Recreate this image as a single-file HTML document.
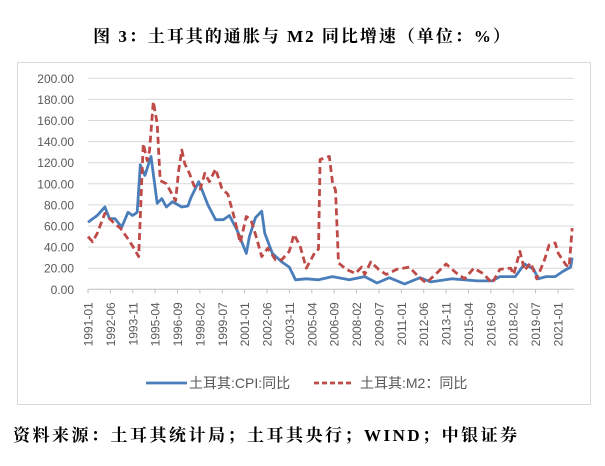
<!DOCTYPE html>
<html><head><meta charset="utf-8"><style>
body{margin:0;background:#fff;width:605px;height:466px;overflow:hidden;position:relative;font-family:"Liberation Serif","Noto Serif CJK SC",serif}
#title{position:absolute;left:0;width:605px;top:22px;text-align:center;font-size:17px;font-weight:bold;color:#000;letter-spacing:2px}
#src{position:absolute;left:13px;top:421px;font-size:17px;font-weight:bold;color:#000;letter-spacing:2.5px}
#box{position:absolute;left:17px;top:62px;width:574px;height:343px;border:1px solid #d9d9d9;box-sizing:border-box}
svg{position:absolute;left:0;top:0}
</style></head><body>
<div id="title">图 3：土耳其的通胀与 M2 同比增速（单位：%）</div>
<div id="box"></div>
<svg id="chart" width="605" height="466"></svg>
<div id="src">资料来源：土耳其统计局；土耳其央行；WIND；中银证券</div>
<script>
const yTicks=[0,20,40,60,80,100,120,140,160,180,200];
const xTickLabels=["1991-01","1992-06","1993-11","1995-04","1996-09","1998-02","1999-07","2001-01","2002-06","2003-11","2005-04","2006-09","2008-02","2009-07","2011-01","2012-06","2013-11","2015-04","2016-09","2018-02","2019-07","2021-01"];
const cpiT=[1991.0,1991.6,1992.1,1992.4,1992.75,1993.2,1993.6,1993.9,1994.2,1994.4,1994.7,1995.1,1995.5,1995.8,1996.1,1996.5,1997.1,1997.5,1997.7,1998.2,1998.4,1998.8,1999.3,1999.8,2000.2,2000.7,2001.3,2001.5,2001.9,2002.3,2002.5,2003.0,2003.6,2004.1,2004.5,2005.2,2006.0,2006.9,2008.0,2009.0,2009.8,2010.6,2011.6,2012.6,2013.3,2014.7,2016.3,2017.3,2017.8,2018.8,2019.4,2020.0,2020.3,2020.8,2021.4,2021.9,2022.4,2022.5];
const cpiV=[63.5,70,78,67,67,59,73,70,73,118,108,126,81.5,86,78,83,78,79,87,102,95,80,66,66,70,56,34,50,68,74,53,34,26,21,9,10,9,12,9,12,6,11,5,11,7,10,8,8,12,12,24,19,10,12,12,17,21,30];
const m2T=[1991.0,1991.3,1991.6,1992.1,1992.4,1992.75,1993.1,1993.5,1993.9,1994.3,1994.5,1994.6,1994.85,1995.0,1995.25,1995.5,1995.7,1996.1,1996.7,1996.9,1997.1,1997.3,1997.6,1997.9,1998.3,1998.6,1998.9,1999.3,1999.7,2000.1,2000.5,2000.9,2001.3,2001.6,2001.9,2002.3,2002.7,2003.2,2003.6,2004.1,2004.4,2004.8,2005.2,2005.8,2006.0,2006.1,2006.7,2006.9,2007.1,2007.3,2007.8,2008.4,2008.8,2009.0,2009.4,2009.9,2010.4,2011.1,2011.9,2012.5,2013.0,2013.6,2014.3,2015.0,2015.5,2016.1,2016.7,2017.3,2017.8,2018.5,2018.7,2019.1,2019.4,2019.8,2020.2,2020.7,2021.0,2021.4,2021.6,2022.1,2022.3,2022.5];
const m2V=[50,45,53,72,67,62,58,50,41,31,105,138,122,131,178,157,103,100,84,113,132,119,110,98,95,110,102,114,96,90,69,44,69,66,52,31,39,28,28,36,52,41,20,36,38,123,126,102,94,25,19,15,21,14,26,19,14,19,21,12,6,14,24,15,10,20,15,6,19,20,14,36,18,25,10,28,42,44,34,23,21,58];
const svg=document.getElementById('chart');const NS='http://www.w3.org/2000/svg';
const X0=88,PXY=15.37,Y0=289.3,YT=78.3,TICKDX=22.38;
const xs=t=>X0+(t-1991)*PXY;
const ys=v=>Y0-(v/200)*(Y0-YT);
function mk(tag,attrs){const e=document.createElementNS(NS,tag);for(const k in attrs)e.setAttribute(k,attrs[k]);svg.appendChild(e);return e;}
yTicks.forEach(v=>{
 if(v>0){const g=mk('line',{x1:X0,x2:574,y1:ys(v),y2:ys(v),stroke:'#d9d9d9','stroke-width':1});
 
 }
 const t=mk('text',{x:74,y:ys(v)+4.5,'text-anchor':'end','font-size':'12','fill':'#595959','font-family':'Liberation Sans, sans-serif'});
 t.textContent=v.toFixed(2);
 
 
});
const ax=mk('line',{x1:X0,x2:574,y1:Y0,y2:Y0,stroke:'#bfbfbf','stroke-width':1});


xTickLabels.forEach((lab,i)=>{
 const x=X0+i*TICKDX;
 const tk=mk('line',{x1:x,x2:x,y1:Y0,y2:Y0+4,stroke:'#bfbfbf'});
 
 
 const t=mk('text',{x:0,y:0,'text-anchor':'end','font-size':'12','fill':'#595959','font-family':'Liberation Sans, sans-serif',transform:`translate(${x+4.5},${Y0+13}) rotate(-90)`});
 t.textContent=lab;
 
 
});
function path(T,V){return T.map((t,i)=>(i?'L':'M')+xs(t).toFixed(1)+','+ys(V[i]).toFixed(1)).join('');}
const cp=mk('path',{d:path(cpiT,cpiV),fill:'none',stroke:'#4a7ebb','stroke-width':2.8,'stroke-linejoin':'round'});


const mp=mk('path',{d:path(m2T,m2V),fill:'none',stroke:'#be4b48','stroke-width':2.8,'stroke-dasharray':'7,4','stroke-linejoin':'round'});


const l1=mk('line',{x1:146,x2:187,y1:383,y2:383,stroke:'#4a7ebb','stroke-width':2.8});


const t1=mk('text',{x:189,y:388,'font-size':'14','fill':'#595959','font-family':'Liberation Sans, Noto Sans CJK SC, sans-serif'});
t1.textContent='土耳其:CPI:同比';


const l2=mk('line',{x1:314,x2:352,y1:383,y2:383,stroke:'#be4b48','stroke-width':2.8,'stroke-dasharray':'5,3'});


const t2=mk('text',{x:360,y:388,'font-size':'14','fill':'#595959','font-family':'Liberation Sans, Noto Sans CJK SC, sans-serif'});
t2.textContent='土耳其:M2：同比';


</script>
</body></html>
